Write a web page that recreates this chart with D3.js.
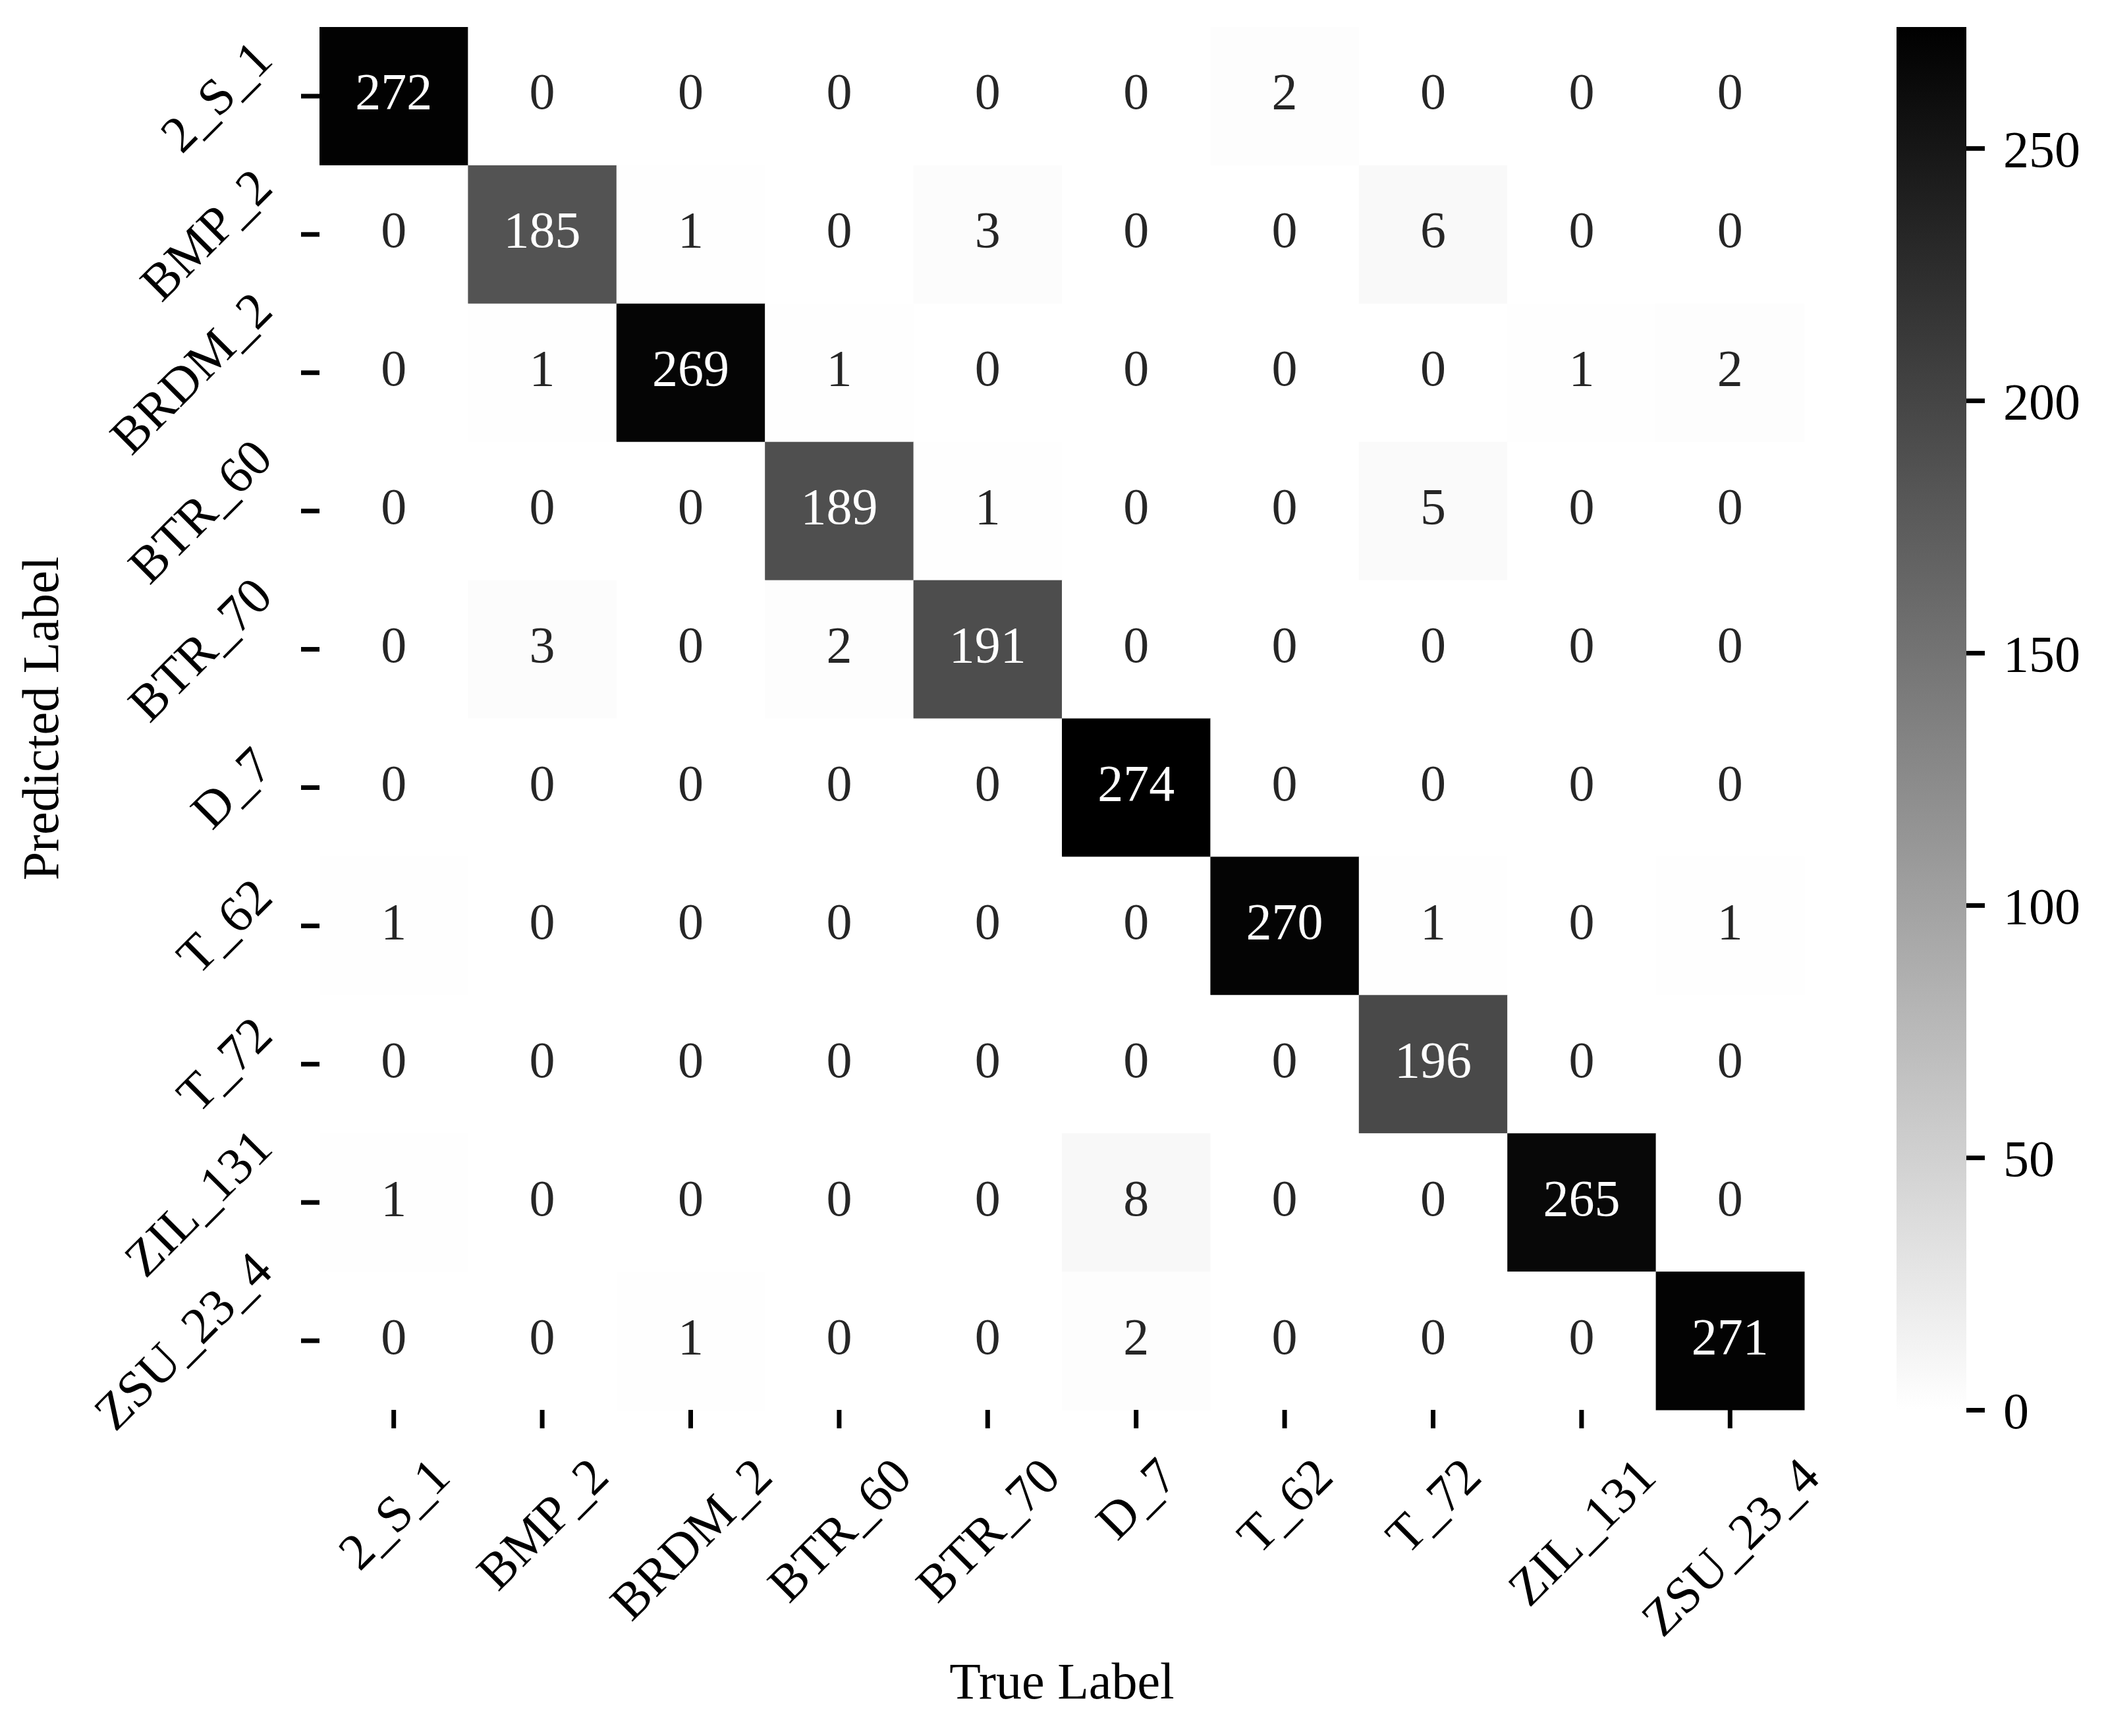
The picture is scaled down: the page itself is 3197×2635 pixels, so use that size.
<!DOCTYPE html>
<html>
<head>
<meta charset="utf-8">
<script src="https://cdn.jsdelivr.net/npm/d3@7"></script>
<style>
    body { margin: 0; background: #fff; }
    text { font-family: "Liberation Serif", "Times New Roman", serif; }
</style>
</head>
<body>
<svg id="chart"></svg>
<script>
// Data
const labels = ["2_S_1", "BMP_2", "BRDM_2", "BTR_60", "BTR_70", "D_7", "T_62", "T_72", "ZIL_131", "ZSU_23_4"];

// rows = predicted label, columns = true label
const matrix = [
    [272, 0, 0, 0, 0, 0, 2, 0, 0, 0],
    [0, 185, 1, 0, 3, 0, 0, 6, 0, 0],
    [0, 1, 269, 1, 0, 0, 0, 0, 1, 2],
    [0, 0, 0, 189, 1, 0, 0, 5, 0, 0],
    [0, 3, 0, 2, 191, 0, 0, 0, 0, 0],
    [0, 0, 0, 0, 0, 274, 0, 0, 0, 0],
    [1, 0, 0, 0, 0, 0, 270, 1, 0, 1],
    [0, 0, 0, 0, 0, 0, 0, 196, 0, 0],
    [1, 0, 0, 0, 0, 8, 0, 0, 265, 0],
    [0, 0, 1, 0, 0, 2, 0, 0, 0, 271]
];

const cbarTicks = [0, 50, 100, 150, 200, 250];

// Dimensions
const width = 3197;
const height = 2635;

const plot = { left: 485, right: 2739, top: 41, bottom: 2140 };
const cbar = { left: 2879, right: 2985 };

const fontSize = 78;
const tickLen = 28;
const tickPad = 28;
const tickWidth = 7;

const svg = d3.select("#chart")
    .attr("width", width)
    .attr("height", height);

const x = d3.scaleBand().domain(labels).range([plot.left, plot.right]);
const y = d3.scaleBand().domain(labels).range([plot.top, plot.bottom]);

const vmax = d3.max(matrix.flat());
const color = d3.scaleLinear()
    .domain([0, vmax])
    .range(["#ffffff", "#000000"]);

const cells = [];
matrix.forEach((row, i) => {
    row.forEach((v, j) => {
        cells.push({ pred: labels[i], truth: labels[j], value: v });
    });
});

// seaborn-style annotation colour from cell luminance
function luminance(c) {
    const rgb = d3.rgb(c);
    const f = v => {
        v = v / 255;
        return v <= 0.03928 ? v / 12.92 : Math.pow((v + 0.055) / 1.055, 2.4);
    };
    return 0.2126 * f(rgb.r) + 0.7152 * f(rgb.g) + 0.0722 * f(rgb.b);
}

// Cells
svg.append("g")
    .selectAll("rect")
    .data(cells)
    .join("rect")
    .attr("x", d => x(d.truth))
    .attr("y", d => y(d.pred))
    .attr("width", x.bandwidth() + 0.5)
    .attr("height", y.bandwidth() + 0.5)
    .attr("fill", d => color(d.value));

// Annotations
svg.append("g")
    .selectAll("text")
    .data(cells)
    .join("text")
    .attr("x", d => x(d.truth) + x.bandwidth() / 2)
    .attr("y", d => y(d.pred) + y.bandwidth() / 2)
    .attr("dy", "0.25em")
    .attr("text-anchor", "middle")
    .attr("font-size", fontSize)
    .attr("fill", d => luminance(color(d.value)) > 0.408 ? "#262626" : "#ffffff")
    .text(d => d.value);

// Axes (tick marks only, labels drawn rotated below)
const xAxis = svg.append("g")
    .attr("transform", `translate(0,${plot.bottom})`)
    .call(d3.axisBottom(x).tickSize(tickLen).tickFormat(""));

const yAxis = svg.append("g")
    .attr("transform", `translate(${plot.left},0)`)
    .call(d3.axisLeft(y).tickSize(tickLen).tickFormat(""));

[xAxis, yAxis].forEach(a => {
    a.select(".domain").remove();
    a.selectAll(".tick line")
        .attr("stroke", "#000")
        .attr("stroke-width", tickWidth);
});

// Rotated tick labels, rotated box aligned like matplotlib
function rotatedLabel(text, place) {
    const t = svg.append("text")
        .attr("font-size", fontSize)
        .attr("fill", "#000")
        .text(text);
    const bb = t.node().getBBox();
    const side = (bb.width + bb.height) / Math.SQRT2;
    const [cx, cy] = place(side);
    t.attr("text-anchor", "middle")
        .attr("y", -(bb.y + bb.height / 2))
        .attr("transform", `translate(${cx},${cy}) rotate(-45)`);
}

labels.forEach(d => {
    rotatedLabel(d, side => [
        x(d) + x.bandwidth() / 2,
        plot.bottom + tickLen + tickPad + side / 2
    ]);
    rotatedLabel(d, side => [
        plot.left - tickLen - tickPad - side / 2,
        y(d) + y.bandwidth() / 2
    ]);
});

// Axis titles
svg.append("text")
    .attr("x", (plot.left + plot.right) / 2)
    .attr("y", 2578)
    .attr("text-anchor", "middle")
    .attr("font-size", fontSize)
    .text("True Label");

svg.append("text")
    .attr("transform", `translate(88,${(plot.top + plot.bottom) / 2}) rotate(-90)`)
    .attr("text-anchor", "middle")
    .attr("font-size", fontSize)
    .text("Predicted Label");

// Colour bar
const defs = svg.append("defs");
const grad = defs.append("linearGradient")
    .attr("id", "cbarGrad")
    .attr("x1", 0).attr("y1", 1)
    .attr("x2", 0).attr("y2", 0);
grad.append("stop").attr("offset", "0%").attr("stop-color", color(0));
grad.append("stop").attr("offset", "100%").attr("stop-color", color(vmax));

const cy = d3.scaleLinear()
    .domain([0, vmax])
    .range([plot.bottom, plot.top]);

svg.append("rect")
    .attr("x", cbar.left)
    .attr("y", cy(vmax))
    .attr("width", cbar.right - cbar.left)
    .attr("height", cy(0) - cy(vmax))
    .attr("fill", "url(#cbarGrad)");

const cAxis = svg.append("g")
    .attr("transform", `translate(${cbar.right},0)`)
    .call(d3.axisRight(cy)
        .tickValues(cbarTicks)
        .tickSize(tickLen)
        .tickPadding(tickPad));

cAxis.select(".domain").remove();
cAxis.selectAll(".tick line")
    .attr("stroke", "#000")
    .attr("stroke-width", tickWidth);
cAxis.selectAll(".tick text")
    .attr("font-size", fontSize)
    .attr("font-family", "Liberation Serif, serif")
    .attr("fill", "#000")
    .attr("dy", "0.35em");
</script>
</body>
</html>
